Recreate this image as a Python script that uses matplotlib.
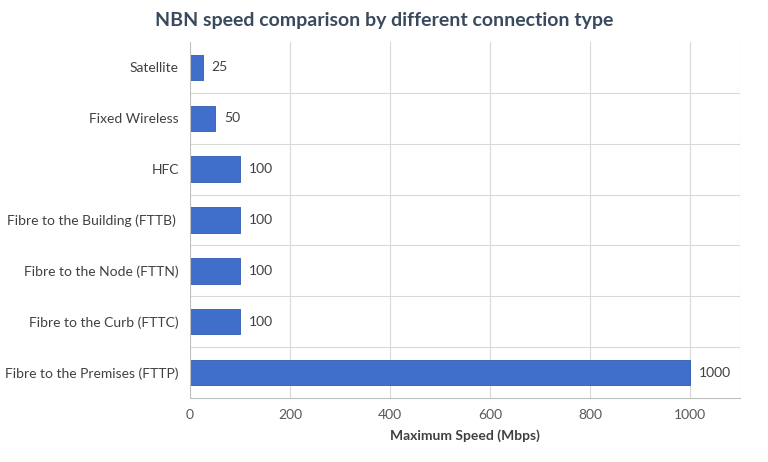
import matplotlib.pyplot as plt
from matplotlib.ticker import MultipleLocator

plt.rcParams['font.family'] = ['Lato', 'DejaVu Sans']

categories = ['Satellite', 'Fixed Wireless', 'HFC', 'Fibre to the Building (FTTB) ',
              'Fibre to the Node (FTTN)', 'Fibre to the Curb (FTTC)', 'Fibre to the Premises (FTTP)']
speeds = [25, 50, 100, 100, 100, 100, 1000]

fig = plt.figure(figsize=(7.68, 4.62), dpi=100)
ax = fig.add_axes([190 / 768, 1 - 398 / 462, 550 / 768, 356 / 462])

y = list(range(len(categories)))
bars = ax.barh(y, speeds, height=0.5, color='#3F6FCB', edgecolor='#2F5AAF', linewidth=0.6, zorder=3)
for yi, v in zip(y, speeds):
    ax.text(v + 18, yi, str(v), va='center', ha='left', fontsize=10, color='#404040')

ax.set_yticks(y)
ax.set_yticklabels(categories, fontsize=10, color='#404040')
ax.set_ylim(len(categories) - 0.5, -0.5)
ax.set_xlim(0, 1100)
ax.xaxis.set_major_locator(MultipleLocator(200))
ax.set_xticks([0, 200, 400, 600, 800, 1000])
ax.tick_params(axis='x', colors='#595959', labelsize=10, length=0, pad=8)
ax.tick_params(axis='y', length=0, pad=8)

for gx in [200, 400, 600, 800, 1000, 1100]:
    ax.axvline(gx, color='#D9D9D9', linewidth=0.8, zorder=0)
for gy in [i + 0.5 for i in range(len(categories) - 1)]:
    ax.axhline(gy, color='#D9D9D9', linewidth=0.8, zorder=0)

for s in ['top', 'right', 'left']:
    ax.spines[s].set_visible(False)
ax.spines['bottom'].set_color('#BFBFBF')
ax.axvline(0, color='#BFBFBF', linewidth=0.8, zorder=4)

ax.set_xlabel('Maximum Speed (Mbps)', fontsize=10, fontweight='bold', color='#404040', labelpad=6)
fig.suptitle('NBN speed comparison by different connection type', x=0.5, y=0.975,
             fontsize=14, fontweight='bold', color='#3A4A5E')

fig.savefig('out.png', dpi=100)
